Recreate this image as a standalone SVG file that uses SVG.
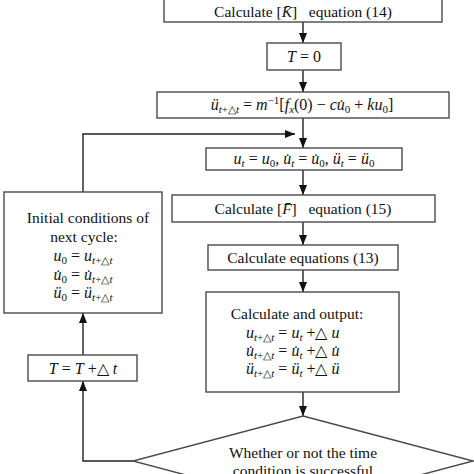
<svg xmlns="http://www.w3.org/2000/svg" width="474" height="474" viewBox="0 0 474 474">
<style>
.box{fill:#fff;stroke:#4a4a4a;stroke-width:1.4}
.ln{fill:none;stroke:#222;stroke-width:1.4}
text{font-family:"Liberation Serif","Times New Roman",serif;font-size:15.5px;fill:#111}
.m{font-size:16px}
.c{text-anchor:middle}
.i{font-style:italic}
.s{font-size:11px;font-style:italic}
.u{font-style:normal}
</style>
<defs>
<marker id="ah" markerUnits="userSpaceOnUse" markerWidth="10" markerHeight="10" refX="10" refY="4" orient="auto">
<path d="M0,0 L10,4 L0,8 z" fill="#111"/>
</marker>
</defs>
<g id="connectors">
<line class="ln" x1="303" y1="22" x2="303" y2="43" marker-end="url(#ah)"/>
<line class="ln" x1="303" y1="70" x2="303" y2="92" marker-end="url(#ah)"/>
<line class="ln" x1="303" y1="118" x2="303" y2="148" marker-end="url(#ah)"/>
<line class="ln" x1="303" y1="170" x2="303" y2="195" marker-end="url(#ah)"/>
<line class="ln" x1="303" y1="222" x2="303" y2="245" marker-end="url(#ah)"/>
<line class="ln" x1="303" y1="270" x2="303" y2="292" marker-end="url(#ah)"/>
<line class="ln" x1="303" y1="392" x2="303" y2="416" marker-end="url(#ah)"/>
<polyline class="ln" points="83,192 83,134 295,134" marker-end="url(#ah)"/>
<line class="ln" x1="83" y1="355" x2="83" y2="313" marker-end="url(#ah)"/>
<polyline class="ln" points="133,461 83,461 83,381" marker-end="url(#ah)"/>
</g>
<g id="n-calcK">
<rect class="box" x="164" y="-5" width="278" height="27"/>
<text class="c" x="303" y="17" xml:space="preserve">Calculate [<tspan class="i">K&#772;</tspan>]   equation (14)</text>
</g>
<g id="n-T0">
<rect class="box" x="267" y="43" width="74" height="27"/>
<text class="c m" x="304" y="62"><tspan class="i">T</tspan> = 0</text>
</g>
<g id="n-accel">
<rect class="box" x="157" y="92" width="292" height="26"/>
<text class="c m" x="302" y="110"><tspan class="i">u&#776;</tspan><tspan class="s" dy="3">t<tspan class="u">+△</tspan>t</tspan><tspan dy="-3"> = </tspan><tspan class="i">m</tspan><tspan class="s u" dy="-6">−1</tspan><tspan dy="6">[</tspan><tspan class="i">f</tspan><tspan class="s" dy="3">x</tspan><tspan dy="-3">(0) − </tspan><tspan class="i">cu&#775;</tspan><tspan class="s u" dy="3">0</tspan><tspan dy="-3"> + </tspan><tspan class="i">ku</tspan><tspan class="s u" dy="3">0</tspan><tspan dy="-3">]</tspan></text>
</g>
<g id="n-init">
<rect class="box" x="206" y="148" width="196" height="22"/>
<text class="c m" x="304" y="164"><tspan class="i">u</tspan><tspan class="s" dy="3">t</tspan><tspan dy="-3"> = </tspan><tspan class="i">u</tspan><tspan class="s u" dy="3">0</tspan><tspan dy="-3">, </tspan><tspan class="i">u&#775;</tspan><tspan class="s" dy="3">t</tspan><tspan dy="-3"> = </tspan><tspan class="i">u&#775;</tspan><tspan class="s u" dy="3">0</tspan><tspan dy="-3">, </tspan><tspan class="i">u&#776;</tspan><tspan class="s" dy="3">t</tspan><tspan dy="-3"> = </tspan><tspan class="i">u&#776;</tspan><tspan class="s u" dy="3">0</tspan></text>
</g>
<g id="n-calcF">
<rect class="box" x="172" y="195" width="263" height="27"/>
<text class="c" x="303" y="214" xml:space="preserve">Calculate [<tspan class="i">F&#772;</tspan>]   equation (15)</text>
</g>
<g id="n-calc13">
<rect class="box" x="208" y="245" width="190" height="25"/>
<text class="c" x="303" y="263">Calculate equations (13)</text>
</g>
<g id="n-output">
<rect class="box" x="206" y="292" width="193" height="100"/>
<text class="c" x="297" y="319">Calculate and output:</text>
<text class="m" x="246" y="338"><tspan class="i">u</tspan><tspan class="s" dy="3">t<tspan class="u">+△</tspan>t</tspan><tspan dy="-3"> = </tspan><tspan class="i">u</tspan><tspan class="s" dy="3">t</tspan><tspan dy="-3"> +△ </tspan><tspan class="i">u</tspan></text>
<text class="m" x="246" y="356"><tspan class="i">u&#775;</tspan><tspan class="s" dy="3">t<tspan class="u">+△</tspan>t</tspan><tspan dy="-3"> = </tspan><tspan class="i">u&#775;</tspan><tspan class="s" dy="3">t</tspan><tspan dy="-3"> +△ </tspan><tspan class="i">u&#775;</tspan></text>
<text class="m" x="246" y="374"><tspan class="i">u&#776;</tspan><tspan class="s" dy="3">t<tspan class="u">+△</tspan>t</tspan><tspan dy="-3"> = </tspan><tspan class="i">u&#776;</tspan><tspan class="s" dy="3">t</tspan><tspan dy="-3"> +△ </tspan><tspan class="i">u&#776;</tspan></text>
</g>
<g id="n-next">
<rect class="box" x="4" y="192" width="158" height="121"/>
<text class="c" x="88" y="223">Initial conditions of</text>
<text class="c" x="84" y="242">next cycle:</text>
<text class="c m" x="83" y="261"><tspan class="i">u</tspan><tspan class="s u" dy="3">0</tspan><tspan dy="-3"> = </tspan><tspan class="i">u</tspan><tspan class="s" dy="3">t<tspan class="u">+△</tspan>t</tspan></text>
<text class="c m" x="83" y="280"><tspan class="i">u&#775;</tspan><tspan class="s u" dy="3">0</tspan><tspan dy="-3"> = </tspan><tspan class="i">u&#775;</tspan><tspan class="s" dy="3">t<tspan class="u">+△</tspan>t</tspan></text>
<text class="c m" x="83" y="298"><tspan class="i">u&#776;</tspan><tspan class="s u" dy="3">0</tspan><tspan dy="-3"> = </tspan><tspan class="i">u&#776;</tspan><tspan class="s" dy="3">t<tspan class="u">+△</tspan>t</tspan></text>
</g>
<g id="n-Tinc">
<rect class="box" x="28" y="355" width="109" height="26"/>
<text class="c m" x="83" y="374"><tspan class="i">T</tspan> = <tspan class="i">T</tspan> +△ <tspan class="i">t</tspan></text>
</g>
<g id="n-check">
<polygon class="box" points="303,416 473,461 303,506 133,461"/>
<text class="c" x="303" y="458">Whether or not the time</text>
<text class="c" x="303" y="476">condition is successful</text>
</g>
</svg>
